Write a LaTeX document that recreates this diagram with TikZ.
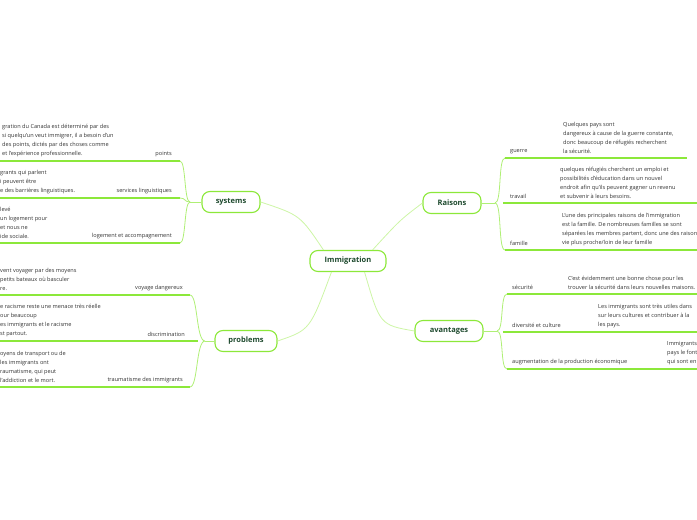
\documentclass[tikz,border=0pt]{standalone}
\usepackage{fontspec}
\setmainfont{Open Sans}
\definecolor{lg}{HTML}{8CE83A}
\definecolor{pg}{HTML}{CDF5A6}
\definecolor{tg}{HTML}{1E4A2E}
\begin{document}
\begin{tikzpicture}[x=1pt,y=-1pt,
 mainbox/.style={draw=lg,line width=1.1pt,rounded corners=8pt,fill=white,font=\fontsize{7.5}{9}\selectfont\bfseries,text=tg,minimum height=21pt,inner xsep=8pt},
 sub/.style={font=\fontsize{5.6}{9}\selectfont,text=black!80,inner sep=0pt},
 desc/.style={font=\fontsize{5.6}{9}\selectfont,text=black!80,inner sep=0pt,align=left},
 uline/.style={draw=lg,line width=1.3pt},
 conn/.style={draw=pg,line width=0.8pt},
 bconn/.style={draw=lg!70!white,line width=0.8pt}]
\useasboundingbox (0,0) rectangle (697,520);
\node[mainbox,minimum width=76pt] (im) at (348,261) {Immigration};
\node[mainbox,minimum width=58pt] (sy) at (231,202) {systems};
\node[mainbox,minimum width=58pt] (ra) at (452,203) {Raisons};
\node[mainbox,minimum width=62pt] (pr) at (246,341) {problems};
\node[mainbox,minimum width=68pt] (av) at (449,331) {avantages};
\draw[conn] ([xshift=14pt]im.north west) .. controls (300,215) .. (sy.east);
\draw[conn] ([xshift=-14pt]im.north east) .. controls (400,220) .. (ra.west);
\draw[conn] ([xshift=22pt]im.south west) .. controls (310,330) .. (pr.east);
\draw[conn] ([xshift=-22pt]im.south east) .. controls (380,325) .. (av.west);
% systems
\coordinate (hs) at (190,202);
\coordinate (e1) at (180,161); \coordinate (e2) at (180,198); \coordinate (e3) at (180,243);
\draw[bconn] (sy.west) -- (hs);
\draw[bconn] (hs) .. controls (184,202) and (186,161) .. (e1);
\draw[bconn] (hs) .. controls (184,202) and (186,198) .. (e2);
\draw[bconn] (hs) .. controls (184,202) and (186,243) .. (e3);
\draw[uline] (0,161) -- (e1); \draw[uline] (0,198) -- (e2); \draw[uline] (0,243) -- (e3);
\node[sub,anchor=south east] (l1) at (172,157) {points};
\node[sub,anchor=south east] (l2) at (172,194) {services linguistiques};
\node[sub,anchor=south east] (l3) at (172,239) {logement et accompagnement};
\node[desc,anchor=south west] (d1) at (2,157) {gration du Canada est déterminé par des\\si quelqu'un veut immigrer, il a besoin d'un\\ des points, dictés par des choses comme\\ et l'expérience professionnelle.};
\node[desc,anchor=south west] (d2) at (0,194) {grants qui parlent\\i peuvent être\\e des barrières linguistiques.};
\node[desc,anchor=south west] (d3) at (0,239) {levé\\ un logement pour\\ et nous ne\\ide sociale.};
% problems
\coordinate (hp) at (205,341);
\coordinate (f1) at (190,295); \coordinate (f2) at (198,341); \coordinate (f3) at (190,387);
\draw[bconn] (pr.west) -- (hp);
\draw[bconn] (hp) .. controls (196,341) and (198,295) .. (f1);
\draw[bconn] (hp) .. controls (196,341) and (198,387) .. (f3);
\draw[uline] (0,295) -- (f1); \draw[uline] (0,341) -- (f2); \draw[uline] (0,387) -- (f3);
\node[sub,anchor=south east] (m1) at (183,291) {voyage dangereux};
\node[sub,anchor=south east] (m2) at (185,337) {discrimination};
\node[sub,anchor=south east] (m3) at (183,383) {traumatisme des immigrants};
\node[desc,anchor=south west] (g1) at (0,291) {vent voyager par des moyens\\ petits bateaux où basculer\\re.};
\node[desc,anchor=south west] (g2) at (0,337) {e racisme reste une menace très réelle\\our beaucoup\\es immigrants et le racisme\\st partout.};
\node[desc,anchor=south west] (g3) at (0,383) {oyens de transport ou de\\ les immigrants ont\\raumatisme, qui peut\\l'addiction et le mort.};
% raisons
\coordinate (hr) at (495,203);
\coordinate (r1) at (505,158); \coordinate (r2) at (503,203); \coordinate (r3) at (505,250);
\draw[bconn] (ra.east) -- (hr);
\draw[bconn] (hr) .. controls (502,203) and (498,158) .. (r1);
\draw[bconn] (hr) .. controls (502,203) and (498,250) .. (r3);
\draw[uline] (r1) -- (687,158); \draw[uline] (r2) -- (697,203); \draw[uline] (r3) -- (697,250);
\node[sub,anchor=south west] (n1) at (510,154) {guerre};
\node[sub,anchor=south west] (n2) at (510,199) {travail};
\node[sub,anchor=south west] (n3) at (510,246) {famille};
\node[desc,anchor=south west] (k1) at (563,154) {Quelques pays sont\\dangereux à cause de la guerre constante,\\ donc beaucoup de réfugiés recherchent\\ la sécurité.};
\node[desc,anchor=south west] (k2) at (560,199) {quelques réfugiés cherchent un emploi et\\possibilités d'éducation dans un nouvel\\endroit afin qu'ils peuvent gagner un revenu\\et subvenir à leurs besoins.};
\node[desc,anchor=south west] (k3) at (562,246) {L'une des principales raisons de l'immigration\\est la famille. De nombreuses familles se sont\\séparées les membres partent, donc une des raisons\\vie plus proche/loin de leur famille};
% avantages
\coordinate (ha) at (497,331);
\coordinate (a1) at (507,294); \coordinate (a2) at (503,332); \coordinate (a3) at (507,369);
\draw[bconn] (av.east) -- (ha);
\draw[bconn] (ha) .. controls (504,331) and (500,294) .. (a1);
\draw[bconn] (ha) .. controls (504,331) and (500,369) .. (a3);
\draw[uline] (a1) -- (697,294); \draw[uline] (a2) -- (697,332); \draw[uline] (a3) -- (697,369);
\node[sub,anchor=south west] (o1) at (512,290) {sécurité};
\node[sub,anchor=south west] (o2) at (512,328) {diversité et culture};
\node[sub,anchor=south west] (o3) at (512,365) {augmentation de la production économique};
\node[desc,anchor=south west] (p1) at (568,290) {C'est évidemment une bonne chose pour les\\trouver la sécurité dans leurs nouvelles maisons.};
\node[desc,anchor=south west] (p2) at (598,328) {Les immigrants sont très utiles dans\\sur leurs cultures et contribuer à la\\les pays.};
\node[desc,anchor=south west] (p3) at (667,365) {Immigrants\\pays le font\\qui sont en};
\end{tikzpicture}
\end{document}
